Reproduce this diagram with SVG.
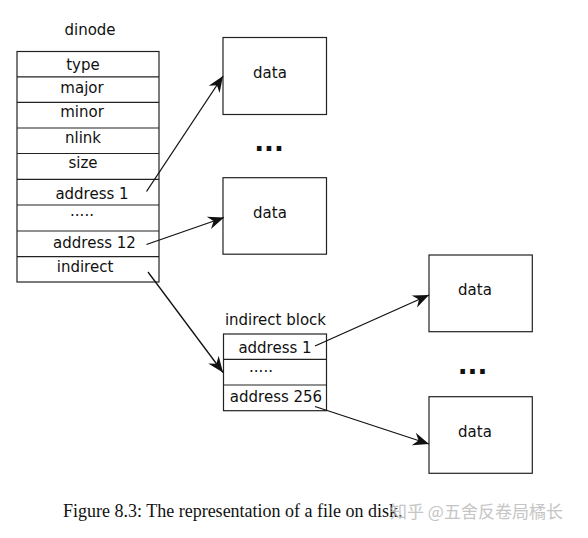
<svg xmlns="http://www.w3.org/2000/svg" width="588" height="538" viewBox="0 0 588 538">
<style>
.box{fill:#fff;stroke:#222;stroke-width:1.2}
.sep{stroke:#222;stroke-width:1.2}
.t{font-family:"DejaVu Sans",sans-serif;font-size:15px;fill:#111}
.c{text-anchor:middle}
.dots{font-family:"DejaVu Sans",sans-serif;font-size:26px;font-weight:bold;fill:#111;text-anchor:middle}
.conn{stroke:#111;stroke-width:1.3;fill:none;marker-end:url(#ah)}
.cap{font-family:"Liberation Serif",serif;font-size:18px;fill:#111}
.wm{font-family:"Noto Sans CJK SC","Liberation Sans",sans-serif;font-size:17px;fill:#bbb;opacity:0.85}
</style>
<defs>
<marker id="ah" markerUnits="userSpaceOnUse" markerWidth="20" markerHeight="14" viewBox="-17 -7 19 14" refX="0" refY="0" orient="auto">
<path d="M0,0 L-16,-6.5 L-11,0 L-16,6.5 Z" fill="#111"/>
</marker>
</defs>
<rect width="588" height="538" fill="#fff"/>

<g id="dinode">
<text class="t c" x="90" y="35">dinode</text>
<rect class="box" x="17" y="51.5" width="142" height="230.5"/>
<line class="sep" x1="17" y1="76.9" x2="159" y2="76.9"/>
<line class="sep" x1="17" y1="102.4" x2="159" y2="102.4"/>
<line class="sep" x1="17" y1="128" x2="159" y2="128"/>
<line class="sep" x1="17" y1="153.5" x2="159" y2="153.5"/>
<line class="sep" x1="17" y1="179.3" x2="159" y2="179.3"/>
<line class="sep" x1="17" y1="205" x2="159" y2="205"/>
<line class="sep" x1="17" y1="231" x2="159" y2="231"/>
<line class="sep" x1="17" y1="256.7" x2="159" y2="256.7"/>
<text class="t c" x="83" y="69.5">type</text>
<text class="t c" x="82" y="93">major</text>
<text class="t c" x="82" y="116.5">minor</text>
<text class="t c" x="83" y="143">nlink</text>
<text class="t c" x="83" y="168">size</text>
<text class="t c" x="92" y="199">address 1</text>
<text class="t c" x="82" y="216">.....</text>
<text class="t c" x="94.5" y="247.5">address 12</text>
<text class="t c" x="85" y="271.5">indirect</text>
</g>

<g id="data1">
<rect class="box" x="223" y="37.5" width="103.5" height="77"/>
<text class="t c" x="270" y="78">data</text>
</g>
<text class="dots" x="269" y="151">...</text>
<g id="data2">
<rect class="box" x="223" y="177.7" width="103.5" height="76.5"/>
<text class="t c" x="270" y="218">data</text>
</g>

<g id="indirect-block">
<text class="t c" x="275.5" y="325">indirect block</text>
<rect class="box" x="223.5" y="334" width="103" height="76.7"/>
<line class="sep" x1="223.5" y1="359.3" x2="326.5" y2="359.3"/>
<line class="sep" x1="223.5" y1="385" x2="326.5" y2="385"/>
<text class="t c" x="275" y="352.5">address 1</text>
<text class="t c" x="261" y="372">.....</text>
<text class="t c" x="276" y="401.5">address 256</text>
</g>

<g id="data3">
<rect class="box" x="429" y="255" width="103.3" height="76.7"/>
<text class="t c" x="475" y="295">data</text>
</g>
<text class="dots" x="472.5" y="374">...</text>
<g id="data4">
<rect class="box" x="429" y="396.7" width="103.3" height="76.6"/>
<text class="t c" x="475" y="437">data</text>
</g>

<g id="connectors">
<line class="conn" x1="146.5" y1="191.5" x2="223" y2="76"/>
<line class="conn" x1="146.5" y1="244.5" x2="224" y2="217.5"/>
<line class="conn" x1="148" y1="272" x2="223" y2="372.5"/>
<line class="conn" x1="315" y1="346" x2="429" y2="295"/>
<line class="conn" x1="315" y1="406.5" x2="429" y2="444"/>
</g>

<text class="cap" x="63" y="517">Figure 8.3: The representation of a file on disk.</text>
<text class="wm" x="390" y="518">知乎 @五舍反卷局橘长</text>
</svg>
